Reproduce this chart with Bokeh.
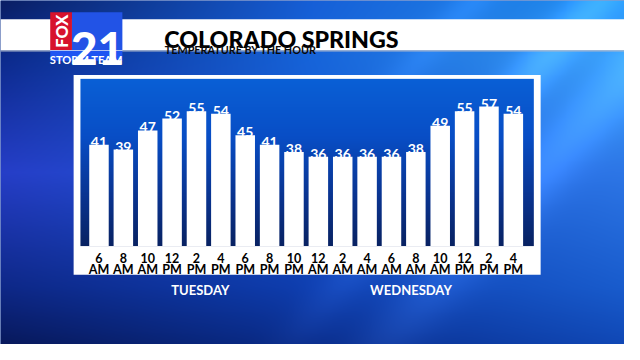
import numpy as np
from bokeh.plotting import figure
from bokeh.models import Range1d
from bokeh.core.properties import value
from bokeh.embed import file_html
from bokeh.resources import INLINE

# ---------------- data ----------------
hours = ["6", "8", "10", "12", "2", "4", "6", "8", "10",
         "12", "2", "4", "6", "8", "10", "12", "2", "4"]
periods = ["AM", "AM", "AM", "PM", "PM", "PM", "PM", "PM", "PM",
           "AM", "AM", "AM", "AM", "AM", "AM", "PM", "PM", "PM"]
temps = [41, 39, 47, 52, 55, 54, 45, 41, 38, 36, 36, 36, 36, 38, 49, 55, 57, 54]
days = ["TUESDAY", "WEDNESDAY"]
title = "COLORADO SPRINGS"
subtitle = "TEMPERATURE BY THE HOUR"

# ---------------- layout helpers (reference pixel -> data) ----------------
W, H = 624, 344          # figure size (page has 8px margin)
RW, RH = 640, 360        # reference design size
PX_X = 25.0              # reference pixels per category slot
PX_Y = 2.5               # reference pixels per degree
FS = 0.965               # font scale


def X(rx):
    return (rx - 101.0) / PX_X


def Y(ry):
    return 41.0 - (ry - 151.0) / PX_Y


def fs(px):
    return "%.1fpx" % (px * FS)


idx = list(range(len(temps)))

p = figure(width=W, height=H, output_backend="svg", toolbar_location=None,
           x_range=Range1d(X(0), X(RW)), y_range=Range1d(Y(RH), Y(0)),
           min_border=0)
p.axis.visible = False
p.grid.visible = False
p.outline_line_color = None
p.background_fill_color = "#0d3a9e"
p.border_fill_color = "#0d3a9e"

# ---------------- background gradient image ----------------
ctrl_x = np.array([0.0, 320.0, 640.0])
ctrl_y = np.array([0.0, 60.0, 180.0, 300.0, 360.0])
ctrl_c = np.array([
    [(10, 30, 100), (22, 95, 215), (35, 145, 240)],
    [(12, 42, 140), (22, 100, 218), (55, 155, 242)],
    [(38, 62, 200), (28, 92, 214), (45, 118, 230)],
    [(14, 40, 136), (14, 62, 175), (25, 92, 205)],
    [(8, 25, 92), (10, 45, 140), (16, 72, 182)],
], dtype=float)
xs = np.arange(RW) + 0.5
ys = np.arange(RH) + 0.5
rows = np.zeros((len(ctrl_y), RW, 3))
for r in range(len(ctrl_y)):
    for c in range(3):
        rows[r, :, c] = np.interp(xs, ctrl_x, ctrl_c[r, :, c])
bg = np.zeros((RH, RW, 3))
for j in range(RW):
    for c in range(3):
        bg[:, j, c] = np.interp(ys, ctrl_y, rows[:, j, c])
XX, YY = np.meshgrid(xs, ys)
for x0, amp, wid in [(560, 45, 30), (660, 35, 40), (430, 25, 25)]:
    d = (XX + YY * 0.9) - x0 - 0.9 * 60
    streak = amp * np.exp(-(d / wid) ** 2) * np.clip((XX - 250) / 300, 0, 1)
    bg += streak[:, :, None] * np.array([0.6, 0.8, 1.0])
bg = np.clip(bg, 0, 255).astype(np.uint8)
rgba = np.dstack([bg, np.full((RH, RW), 255, np.uint8)])
img = np.flipud(rgba).copy().view(np.uint32).reshape(RH, RW)
p.image_rgba(image=[img], x=X(0), y=Y(RH), dw=RW / PX_X, dh=RH / PX_Y)

# ---------------- header band ----------------
p.quad(left=X(0), right=X(RW), top=Y(19.5), bottom=Y(52),
       fill_color="#ffffff", line_color=None)
p.quad(left=X(0), right=X(RW), top=Y(52), bottom=Y(53.5),
       fill_color="#a9b6cc", line_color=None)

# titles
p.text(x=[X(168)], y=[Y(40)], text=[title],
       text_align="left", text_baseline="alphabetic",
       text_font=value("Lato Black"), text_font_style="bold",
       text_font_size=fs(24), text_color="#000000")
p.text(x=[X(168.5)], y=[Y(51)], text=[subtitle],
       text_align="left", text_baseline="alphabetic",
       text_font=value("Lato"), text_font_style="bold",
       text_font_size=fs(11.2), text_color="#0a0a0a")

# ---------------- chart panel ----------------
p.quad(left=X(75), right=X(554), top=Y(78), bottom=Y(287),
       fill_color="#ffffff", line_color=None)
ph = 175
stops_t = np.array([0.0, 0.35, 0.7, 1.0])
stops_c = np.array([(10, 96, 214), (8, 78, 198), (10, 52, 145), (8, 34, 98)], float)
tt = (np.arange(ph) + 0.5) / ph
col = np.stack([np.interp(tt, stops_t, stops_c[:, c]) for c in range(3)], axis=1)
panel = np.zeros((ph, 4, 4), np.uint8)
panel[:, :, :3] = col[:, None, :].astype(np.uint8)
panel[:, :, 3] = 255
panel_img = np.flipud(panel).copy().view(np.uint32).reshape(ph, 4)
p.image_rgba(image=[panel_img], x=X(82), y=Y(257), dw=(547 - 82) / PX_X,
             dh=(257 - 82) / PX_Y)

# bars
p.vbar(x=idx, top=temps, bottom=Y(257), width=0.8,
       fill_color="#ffffff", line_color=None)

# value labels
p.text(x=idx, y=temps, text=[str(t) for t in temps], y_offset=-3,
       text_align="center", text_baseline="alphabetic",
       text_font=value("Lato"), text_font_style="bold",
       text_font_size=fs(14.5), text_color="#ffffff")

# category labels
p.text(x=idx, y=[Y(269.5)] * len(idx), text=hours,
       text_align="center", text_baseline="alphabetic",
       text_font=value("Lato"), text_font_style="bold",
       text_font_size=fs(13), text_color="#000000")
p.text(x=idx, y=[Y(282)] * len(idx), text=periods,
       text_align="center", text_baseline="alphabetic",
       text_font=value("Lato"), text_font_style="bold",
       text_font_size=fs(13), text_color="#000000")

# day labels
p.text(x=[X(205), X(421)], y=[Y(302.5)] * 2, text=days,
       text_align="center", text_baseline="alphabetic",
       text_font=value("Lato"), text_font_style="bold",
       text_font_size=fs(13.5), text_color="#ffffff")

# ---------------- logo (drawn last) ----------------
p.quad(left=X(51), right=X(73.3), top=Y(12.3), bottom=Y(51.7),
       fill_color="#d7122c", line_color=None)
p.quad(left=X(73.3), right=X(125), top=Y(12.3), bottom=Y(51.7),
       fill_color="#2253e6", line_color=None)
p.quad(left=X(51), right=X(125), top=Y(51.7), bottom=Y(52.7),
       fill_color="#ffffff", line_color=None)
p.quad(left=X(51), right=X(125), top=Y(52.7), bottom=Y(63),
       fill_color="#1f55f2", line_color=None)
p.text(x=[X(62.5)], y=[Y(32)], text=["FOX"], angle=np.pi / 2,
       text_align="center", text_baseline="middle",
       text_font=value("Lato Black"), text_font_style="bold",
       text_font_size=fs(17), text_color="#ffffff")
p.text(x=[X(99.5)], y=[Y(50)], text=["21"],
       text_align="center", text_baseline="alphabetic",
       text_font=value("Lato Black"), text_font_style="bold",
       text_font_size=fs(48), text_color="#ffffff")
p.text(x=[X(88)], y=[Y(61.6)], text=["STORM TEAM"],
       text_align="center", text_baseline="alphabetic",
       text_font=value("Lato"), text_font_style="bold",
       text_font_size=fs(11.5), text_color="#ffffff")

open("out.html", "w").write(file_html(p, INLINE))
